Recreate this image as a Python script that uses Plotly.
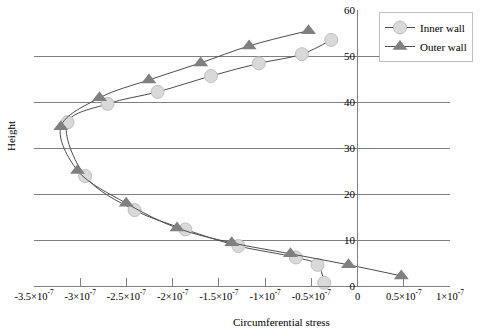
import plotly.graph_objects as go

inner_x = [-0.285, -0.602, -1.068, -1.585, -2.163, -2.704, -3.137, -2.947, -2.412, -1.863, -1.289, -0.667, -0.433, -0.361]
inner_y = [53.5, 50.4, 48.4, 45.65, 42.2, 39.6, 35.6, 23.9, 16.5, 12.3, 8.7, 6.2, 4.6, 0.7]
outer_x = [-0.531, -1.173, -1.697, -2.257, -2.791, -3.210, -3.029, -2.503, -1.953, -1.361, -0.726, -0.098, 0.473]
outer_y = [55.5, 52.2, 48.5, 44.8, 40.9, 34.6, 25.1, 18.0, 12.6, 9.4, 7.0, 4.6, 2.2]
scale = 1e-7

x_tickvals = [-3.5, -3.0, -2.5, -2.0, -1.5, -1.0, -0.5, 0.0, 0.5, 1.0]
x_ticktext = ["-3.5×10<sup>-7</sup>", "-3×10<sup>-7</sup>", "-2.5×10<sup>-7</sup>", "-2×10<sup>-7</sup>",
              "-1.5×10<sup>-7</sup>", "-1×10<sup>-7</sup>", "-0.5×10<sup>-7</sup>", "0",
              "0.5×10<sup>-7</sup>", "1×10<sup>-7</sup>"]
y_tickvals = [0, 10, 20, 30, 40, 50, 60]

FONT = "Liberation Serif, Times New Roman, serif"

fig = go.Figure()
fig.add_trace(go.Scatter(
    x=[v * scale for v in inner_x], y=inner_y, name="Inner wall",
    mode="lines+markers", line=dict(color="#4d4d4d", width=1, shape="spline"),
    marker=dict(symbol="circle", size=13, color="#d9d9d9", line=dict(color="#bfbfbf", width=1)),
    cliponaxis=False))
fig.add_trace(go.Scatter(
    x=[v * scale for v in outer_x], y=outer_y, name="Outer wall",
    mode="lines+markers", line=dict(color="#4d4d4d", width=1, shape="spline"),
    marker=dict(symbol="triangle-up", size=13, color="#808080", line=dict(width=0)),
    cliponaxis=False))

fig.update_layout(
    width=480, height=331,
    margin=dict(l=34, r=30, t=10, b=45, autoexpand=False),
    paper_bgcolor="white", plot_bgcolor="white",
    font=dict(family=FONT, size=11, color="black"),
    showlegend=True,
    legend=dict(x=(379 - 34) / 416, y=(286 - 12) / 276, xanchor="left", yanchor="top",
                bgcolor="white", bordercolor="#bfbfbf", borderwidth=1,
                font=dict(family=FONT, size=11), itemwidth=30, tracegroupgap=0),
    xaxis=dict(range=[-3.5e-7, 1e-7], tickvals=[v * scale for v in x_tickvals], ticktext=x_ticktext,
               showgrid=False, zeroline=False, showline=True, linecolor="#808080", linewidth=1,
               ticks="inside", ticklen=8, tickcolor="#808080", automargin=False,
               tickfont=dict(family=FONT, size=10.5)),
    yaxis=dict(range=[0, 60], tickvals=y_tickvals, anchor="free", position=(357.3 - 34) / 416,
               showgrid=True, gridcolor="#7f7f7f", gridwidth=1, zeroline=False, automargin=False,
               showline=True, linecolor="#808080", linewidth=1, ticks="",
               tickfont=dict(family=FONT, size=11)),
    annotations=[
        dict(text="Circumferential stress", x=281, y=322, xref="paper", yref="paper",
             xanchor="center", yanchor="middle",
             showarrow=False, font=dict(family=FONT, size=11)),
        dict(text="Height", x=11, y=136, xref="paper", yref="paper", textangle=-90,
             xanchor="center", yanchor="middle",
             showarrow=False, font=dict(family=FONT, size=11)),
    ],
)
for a in fig.layout.annotations:
    a.x = (a.x - 34) / 416
    a.y = (286 - a.y) / 276

fig.write_html("out.html", config={"displayModeBar": False},
               post_script="document.body.style.margin='0';document.body.style.padding='0';")
